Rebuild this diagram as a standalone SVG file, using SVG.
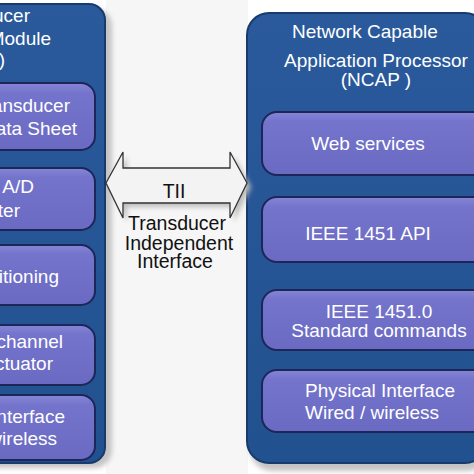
<svg xmlns="http://www.w3.org/2000/svg" width="474" height="474" viewBox="0 0 474 474">
<defs>
<linearGradient id="panel" x1="0" y1="0" x2="0" y2="1">
<stop offset="0" stop-color="#2a5a9c"/>
<stop offset="1" stop-color="#22518f"/>
</linearGradient>
<linearGradient id="box" x1="0" y1="0" x2="0" y2="1">
<stop offset="0" stop-color="#8686d6"/>
<stop offset="0.15" stop-color="#7474cc"/>
<stop offset="1" stop-color="#6a6ac2"/>
</linearGradient>
<filter id="blur" x="-10%" y="-10%" width="120%" height="120%">
<feGaussianBlur stdDeviation="2.5"/>
</filter>
</defs>
<style>
.panel{fill:url(#panel);stroke:#183a6c;stroke-width:2}
.shadow{fill:#c4c4c4;filter:url(#blur)}
.box{fill:url(#box);stroke:#1c2658;stroke-width:2}
.wt{font-family:"Liberation Sans",Arial,sans-serif;font-size:19px;fill:#ffffff}
.bt{font-family:"Liberation Sans",Arial,sans-serif;font-size:19.5px;fill:#111111;text-anchor:middle}
</style>
<rect x="0" y="0" width="474" height="474" fill="#ffffff"/>
<rect x="106" y="0" width="142" height="474" fill="#f6f6f6"/>

<g id="left-panel">
<rect class="shadow" x="-20" y="8" width="132" height="460" rx="18"/>
<rect class="panel" x="-20" y="4" width="125" height="459" rx="16"/>
<text class="wt" x="30" y="22" text-anchor="end" font-size="18">Transducer</text>
<text class="wt" x="51" y="45" text-anchor="end" font-size="18">Interface Module</text>
<text class="wt" x="5" y="66" text-anchor="end" font-size="18">(TIM)</text>
</g>
<g id="left-teds">
<rect class="box" x="-20" y="83" width="115" height="67" rx="14"/>
<text class="wt" x="70" y="112" text-anchor="end">Transducer</text>
<text class="wt" x="77" y="135" text-anchor="end">Data Sheet</text>
</g>
<g id="left-ad">
<rect class="box" x="-20" y="168" width="115" height="62" rx="14"/>
<text class="wt" x="34" y="193" text-anchor="end">Signal A/D</text>
<text class="wt" x="20" y="217" text-anchor="end">Converter</text>
</g>
<g id="left-cond">
<rect class="box" x="-20" y="245" width="115" height="60" rx="14"/>
<text class="wt" x="59" y="283" text-anchor="end">Conditioning</text>
</g>
<g id="left-multi">
<rect class="box" x="-20" y="325" width="115" height="60" rx="14"/>
<text class="wt" x="63" y="348" text-anchor="end">Multichannel</text>
<text class="wt" x="53" y="370" text-anchor="end">Sensor/Actuator</text>
</g>
<g id="left-phys">
<rect class="box" x="-20" y="395" width="115" height="65" rx="14"/>
<text class="wt" x="65" y="423" text-anchor="end">Physical Interface</text>
<text class="wt" x="57" y="445" text-anchor="end">Wired / wireless</text>
</g>

<g id="right-panel">
<rect class="shadow" x="250" y="17" width="240" height="454" rx="22"/>
<rect class="panel" x="247" y="13" width="240" height="450" rx="22"/>
<text class="wt" x="292" y="38">Network Capable</text>
<text class="wt" x="376" y="67" text-anchor="middle">Application Processor</text>
<text class="wt" x="376" y="86" text-anchor="middle">(NCAP )</text>
</g>
<g id="right-web">
<rect class="box" x="262" y="112" width="230" height="63" rx="15"/>
<text class="wt" x="368" y="150" text-anchor="middle">Web services</text>
</g>
<g id="right-api">
<rect class="box" x="262" y="197" width="230" height="65" rx="15"/>
<text class="wt" x="368" y="240" text-anchor="middle">IEEE 1451 API</text>
</g>
<g id="right-cmd">
<rect class="box" x="262" y="290" width="230" height="60" rx="15"/>
<text class="wt" x="379" y="318" text-anchor="middle">IEEE 1451.0</text>
<text class="wt" x="379" y="337" text-anchor="middle">Standard commands</text>
</g>
<g id="right-phys">
<rect class="box" x="262" y="370" width="230" height="62" rx="15"/>
<text class="wt" x="305" y="397">Physical Interface</text>
<text class="wt" x="305" y="419">Wired / wireless</text>
</g>

<g id="connectors">
<path d="M110,187 L127,156 L127,172 L234,172 L234,156 L251,187 L234,222 L234,207 L127,207 L127,222 Z" fill="#bdbdbd" filter="url(#blur)"/>
<path d="M106,183 L123,152 L123,168 L230,168 L230,152 L247,183 L230,218 L230,203 L123,203 L123,218 Z" fill="#f3f3f3" stroke="#333333" stroke-width="1.3" stroke-linejoin="miter"/>
<text class="bt" x="174" y="198" font-size="26">TII</text>
<text class="bt" x="177" y="230" font-size="20">Transducer</text>
<text class="bt" x="179" y="250">Independent</text>
<text class="bt" x="175" y="268">Interface</text>
</g>
</svg>
